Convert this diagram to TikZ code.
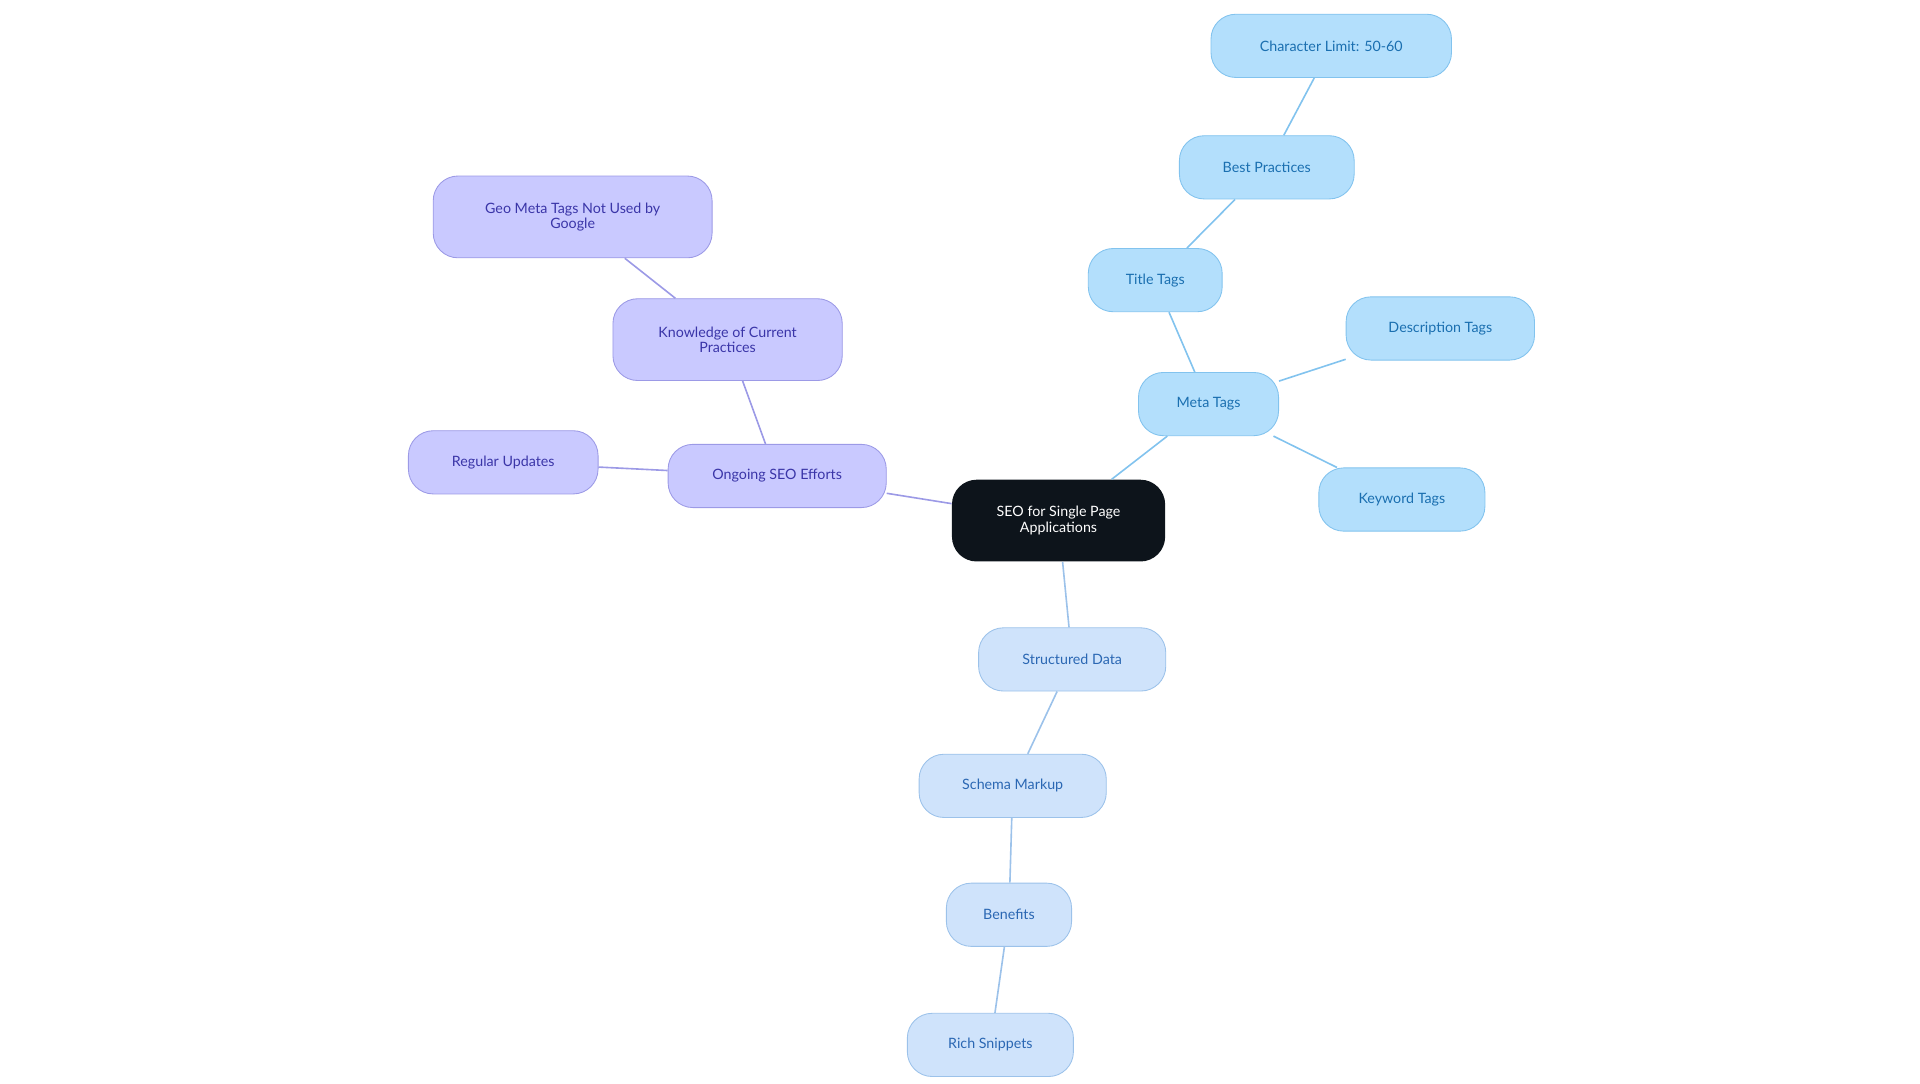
\documentclass[tikz,border=0pt]{standalone}
\usepackage{fontspec}
\setmainfont{Lato}
\definecolor{bfill}{HTML}{B3DFFC}\definecolor{bdraw}{HTML}{82C3EE}\definecolor{btext}{HTML}{1A6FB0}
\definecolor{sfill}{HTML}{CFE3FB}\definecolor{sdraw}{HTML}{9CC2EA}\definecolor{stext}{HTML}{2A67B3}
\definecolor{pfill}{HTML}{C9C9FF}\definecolor{pdraw}{HTML}{9C9AE6}\definecolor{ptext}{HTML}{3A35A8}
\definecolor{rootc}{HTML}{0D141B}
\begin{document}
\begin{tikzpicture}[x=1pt,y=-1pt,
 box/.style={rounded corners=20pt,minimum height=51pt,align=center,font=\fontsize{11.5}{12.5}\selectfont,line width=0.7pt},
 bb/.style={box,fill=bfill,draw=bdraw,text=btext},
 sb/.style={box,fill=sfill,draw=sdraw,text=stext},
 pb/.style={box,fill=pfill,draw=pdraw,text=ptext},
 be/.style={draw=bdraw,line width=1.3pt},
 se/.style={draw=sdraw,line width=1.3pt},
 pe/.style={draw=pdraw,line width=1.3pt}]
\useasboundingbox (0,0) rectangle (1549,874);
\node[box,fill=rootc,text=white,minimum width=172pt,minimum height=66pt] (root) at (854,420) {SEO for Single Page\\Applications};
\node[bb,minimum width=113pt] (meta) at (975,326) {Meta Tags};
\node[bb,minimum width=108pt] (title) at (932,226) {Title Tags};
\node[bb,minimum width=141pt] (best) at (1022,135) {Best Practices};
\node[bb,minimum width=194pt] (char) at (1074,37) {Character Limit: 50-60};
\node[bb,minimum width=152pt] (desc) at (1162,265) {Description Tags};
\node[bb,minimum width=134pt] (key) at (1131,403) {Keyword Tags};
\node[sb,minimum width=151pt] (struct) at (865,532) {Structured Data};
\node[sb,minimum width=151pt] (schema) at (817,634) {Schema Markup};
\node[sb,minimum width=101pt] (ben) at (814,738) {Benefits};
\node[sb,minimum width=134pt] (rich) at (799,843) {Rich Snippets};
\node[pb,minimum width=176pt] (ong) at (627,384) {Ongoing SEO Efforts};
\node[pb,minimum width=153pt] (reg) at (406,373) {Regular Updates};
\node[pb,minimum width=185pt,minimum height=66pt] (know) at (587,274) {Knowledge of Current\\Practices};
\node[pb,minimum width=225pt,minimum height=66pt] (geo) at (462,175) {Geo Meta Tags Not Used by\\Google};
\begin{scope}[on background layer/.try]
\end{scope}
\draw[be] (root) -- (meta); \draw[be] (meta) -- (title); \draw[be] (title) -- (best);
\draw[be] (best) -- (char); \draw[be] (meta) -- (desc); \draw[be] (meta) -- (key);
\draw[se] (root) -- (struct); \draw[se] (struct) -- (schema); \draw[se] (schema) -- (ben); \draw[se] (ben) -- (rich);
\draw[pe] (root) -- (ong); \draw[pe] (ong) -- (reg); \draw[pe] (ong) -- (know); \draw[pe] (know) -- (geo);
\end{tikzpicture}
\end{document}
